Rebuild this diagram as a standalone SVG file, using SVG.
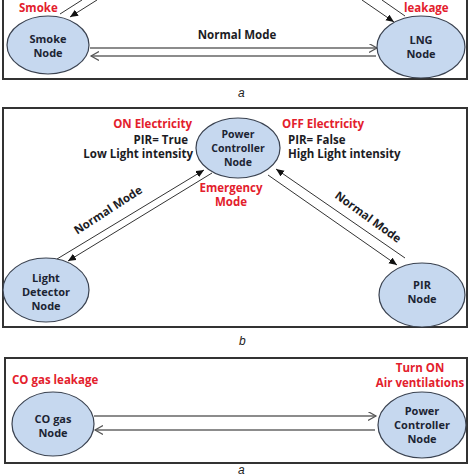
<svg xmlns="http://www.w3.org/2000/svg" width="474" height="474" viewBox="0 0 474 474">
<style>
.box{fill:none;stroke:#333;stroke-width:2}
.node{fill:#c6d8ef;stroke:#3a4250;stroke-width:1.2}
.nt{font-family:"Open Sans","Liberation Sans",sans-serif;font-weight:bold;font-size:11px;fill:#1c2433;text-anchor:middle}
.nts{font-size:10.5px}
.red{font-family:"Open Sans","Liberation Sans",sans-serif;font-weight:bold;font-size:11.5px;fill:#e3202c}
.blk{font-family:"Open Sans","Liberation Sans",sans-serif;font-weight:bold;font-size:11.5px;fill:#1c1c24}
.cap{font-family:"Liberation Sans",Arial,sans-serif;font-style:italic;font-size:12px;fill:#222}
.ln{stroke:#333;stroke-width:1;fill:none}
.hl{stroke:#666;stroke-width:1.6;fill:none}
</style>
<defs>
<marker id="tri" markerUnits="userSpaceOnUse" markerWidth="9" markerHeight="8" refX="8" refY="3.5" orient="auto">
<path d="M0,0 L8,3.5 L0,7 z" fill="#111"/>
</marker>
<marker id="chev" markerUnits="userSpaceOnUse" markerWidth="10" markerHeight="10" refX="8" refY="4.5" orient="auto">
<path d="M0,0 L8,4.5 L0,9" fill="none" stroke="#555" stroke-width="1.2"/>
</marker>
</defs>
<rect width="474" height="474" fill="#fff"/>

<!-- Panel a -->
<rect class="box" x="3" y="-10" width="464" height="89"/>
<g id="connectors">
<line class="ln" x1="82" y1="0" x2="60" y2="14"/>
<line class="ln" x1="97" y1="0" x2="70" y2="17" marker-end="url(#tri)"/>
<line class="ln" x1="362" y1="0" x2="394" y2="22" marker-end="url(#tri)"/>
<line class="ln" x1="382" y1="0" x2="405" y2="16"/>
<line class="hl" x1="90" y1="48" x2="377" y2="48" marker-end="url(#chev)"/>
<line class="hl" x1="376" y1="56" x2="91" y2="56" marker-end="url(#chev)"/>

<line class="ln" x1="57" y1="259" x2="204" y2="170" marker-end="url(#tri)"/>
<line class="ln" x1="212" y1="173" x2="68" y2="261" marker-end="url(#tri)"/>
<line class="ln" x1="405" y1="258" x2="276" y2="169" marker-end="url(#tri)"/>
<line class="ln" x1="268" y1="175" x2="397" y2="265" marker-end="url(#tri)"/>

<line class="hl" x1="94" y1="416" x2="376" y2="416" marker-end="url(#chev)"/>
<line class="hl" x1="375" y1="430" x2="95" y2="430" marker-end="url(#chev)"/>
</g>
<text class="red" x="19" y="12">Smoke</text>
<text class="red" x="404" y="12">leakage</text>
<text class="blk" x="237" y="39" text-anchor="middle">Normal Mode</text>
<g id="smoke-node">
<ellipse class="node" cx="48" cy="45" rx="41" ry="29"/>
<text class="nt" x="48" y="43">Smoke</text>
<text class="nt" x="48" y="57">Node</text>
</g>
<g id="lng-node">
<ellipse class="node" cx="421" cy="47" rx="44" ry="31"/>
<text class="nt" x="421" y="44">LNG</text>
<text class="nt" x="421" y="58">Node</text>
</g>
<text class="cap" x="238" y="97">a</text>

<!-- Panel b -->
<rect class="box" x="3" y="108" width="464" height="219"/>
<text class="red" x="192" y="128" text-anchor="end">ON Electricity</text>
<text class="blk" x="188" y="144" text-anchor="end">PIR= True</text>
<text class="blk" x="193" y="158" text-anchor="end">Low Light intensity</text>
<text class="red" x="282" y="128">OFF Electricity</text>
<text class="blk" x="288" y="144">PIR= False</text>
<text class="blk" x="288" y="158">High Light intensity</text>
<text class="red" x="231" y="192" text-anchor="middle">Emergency</text>
<text class="red" x="231" y="206" text-anchor="middle">Mode</text>
<text class="blk" x="108" y="214" text-anchor="middle" transform="rotate(-33 108 210)">Normal Mode</text>
<text class="blk" x="368" y="221" text-anchor="middle" transform="rotate(36 368 217)">Normal Mode</text>
<g id="power-node-b">
<ellipse class="node" cx="238" cy="148" rx="42" ry="30"/>
<text class="nt nts" x="238" y="138">Power</text>
<text class="nt nts" x="238" y="152">Controller</text>
<text class="nt nts" x="238" y="166">Node</text>
</g>
<g id="light-node">
<ellipse class="node" cx="46" cy="290" rx="43" ry="32"/>
<text class="nt" x="46" y="282">Light</text>
<text class="nt" x="46" y="296">Detector</text>
<text class="nt" x="46" y="310">Node</text>
</g>
<g id="pir-node">
<ellipse class="node" cx="422" cy="295" rx="43" ry="32"/>
<text class="nt" x="422" y="289">PIR</text>
<text class="nt" x="422" y="303">Node</text>
</g>
<text class="cap" x="239" y="345">b</text>

<!-- Panel c -->
<rect class="box" x="5" y="358" width="462" height="105"/>
<text class="red" x="12" y="384">CO gas leakage</text>
<text class="red" x="420" y="372" text-anchor="middle">Turn ON</text>
<text class="red" x="420" y="387" text-anchor="middle">Air ventilations</text>
<g id="co-node">
<ellipse class="node" cx="53" cy="424" rx="41" ry="32"/>
<text class="nt" x="53" y="423">CO gas</text>
<text class="nt" x="53" y="437">Node</text>
</g>
<g id="power-node-c">
<ellipse class="node" cx="422" cy="425" rx="44" ry="33"/>
<text class="nt" x="422" y="415">Power</text>
<text class="nt" x="422" y="429">Controller</text>
<text class="nt" x="422" y="443">Node</text>
</g>
<text class="cap" x="238" y="474">a</text>
</svg>
